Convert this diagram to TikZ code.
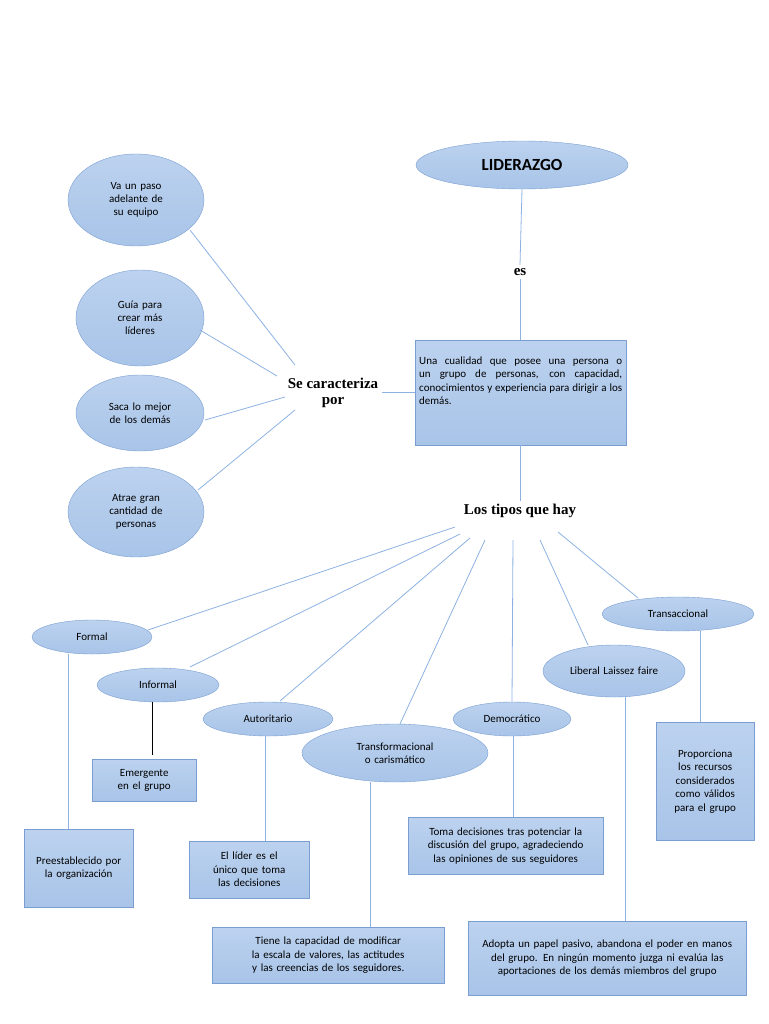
\documentclass[tikz,border=0pt]{standalone}
\usepackage{fontspec}
\setmainfont{Carlito}
\newfontfamily\serifb{Liberation Serif}
\usetikzlibrary{shapes.geometric}
\definecolor{fillb}{HTML}{A8C4E8}
\definecolor{fillt}{HTML}{BCD2EF}
\definecolor{edgeb}{HTML}{7A9ED2}
\definecolor{lineb}{HTML}{8DB2E2}
\tikzset{
 x=1pt,y=-1pt,
 ell/.style={ellipse,draw=edgeb,top color=fillt,bottom color=fillb,inner sep=0pt,align=center,font=\fontsize{11}{13}\selectfont},
 box/.style={rectangle,draw=edgeb,top color=fillt,bottom color=fillb,inner sep=3pt,align=center,font=\fontsize{11}{13.5}\selectfont,anchor=north west},
 lab/.style={font=\serifb\bfseries\fontsize{15}{16}\selectfont,align=center},
 ln/.style={draw=lineb,line width=0.8pt}
}
\begin{document}
\begin{tikzpicture}
\useasboundingbox (0,0) rectangle (768,1024);
% top
\node[ell,minimum width=212,minimum height=48,font=\bfseries\fontsize{17}{18}\selectfont] (lid) at (522,165) {LIDERAZGO};
\node[lab] (es) at (520,272) {es};
\node[box,minimum width=211,minimum height=105,text width=203,align=justify] (def) at (415,340) {Una cualidad que posee una persona o un grupo de personas, con capacidad, conocimientos y experiencia para dirigir a los demás.\\[1em]};
\node[lab] (se) at (333,393) {Se caracteriza\\por};
\node[lab] (tip) at (520,511) {Los tipos que hay};
\draw[ln] (lid.south) -- (es.north);
\draw[ln] (es.south) -- (def.north -| es);
\draw[ln] (def.south -| es) -- (tip.north -| es);
\draw[ln] (def.west) -- (se.east |- def.west);
% left ellipses
\node[ell,minimum width=136,minimum height=92,text width=80] (e1) at (136,200) {Va un paso adelante de su equipo};
\node[ell,minimum width=128,minimum height=96,text width=70] (e2) at (140,318) {Guía para crear más líderes};
\node[ell,minimum width=128,minimum height=76,text width=80] (e3) at (140,413) {Saca lo mejor de los demás};
\node[ell,minimum width=136,minimum height=90,text width=70] (e4) at (136,512) {Atrae gran cantidad de personas};
\coordinate (s1) at (295,365); \coordinate (s2) at (277,376);
\coordinate (s3) at (285,397); \coordinate (s4) at (295,410);
\draw[ln] (190,230) -- (s1);
\draw[ln] (200,330) -- (s2);
\draw[ln] (205,420) -- (s3);
\draw[ln] (198,490) -- (s4);
% type ellipses
\node[ell,minimum width=120,minimum height=34] (f) at (92,637) {Formal};
\node[ell,minimum width=122,minimum height=34] (inf) at (158,685) {Informal};
\node[ell,minimum width=130,minimum height=34] (aut) at (268,719) {Autoritario};
\node[ell,minimum width=186,minimum height=58,text width=120] (tra) at (395,753) {Transformacional o carismático};
\node[ell,minimum width=118,minimum height=34] (dem) at (512,719) {Democrático};
\node[ell,minimum width=142,minimum height=52,text width=90] (lib) at (614,671) {Liberal Laissez faire};
\node[ell,minimum width=152,minimum height=34] (trs) at (678,614) {Transaccional};
\draw[ln] (455,527) -- (148,630);
\draw[ln] (460,534) -- (190,667);
\draw[ln] (470,538) -- (280,701);
\draw[ln] (485,540) -- (400,724);
\draw[ln] (513,540) -- (dem.north);
\draw[ln] (540,540) -- (588,645);
\draw[ln] (558,532) -- (638,598);
% boxes
\node[box,minimum width=104,minimum height=42,text width=96] (b1) at (92,759) {Emergente en el grupo};
\node[box,minimum width=109,minimum height=78,text width=100] (b2) at (24,829) {Preestablecido por la organización};
\node[box,minimum width=120,minimum height=57,text width=96] (b3) at (189,841) {El líder es el único que toma las decisiones};
\node[box,minimum width=232,minimum height=56,text width=224] (b4) at (212,927) {Tiene la capacidad de modificar la escala de valores, las actitudes y las creencias de los seguidores.};
\node[box,minimum width=195,minimum height=57,text width=188] (b5) at (408,817) {Toma decisiones tras potenciar la discusión del grupo, agradeciendo las opiniones de sus seguidores};
\node[box,minimum width=278,minimum height=74,text width=250] (b6) at (468,921) {Adopta un papel pasivo, abandona el poder en manos del grupo. En ningún momento juzga ni evalúa las aportaciones de los demás miembros del grupo};
\node[box,minimum width=98,minimum height=118,text width=86,anchor=north west] (b7) at (656,722) {Proporciona los recursos considerados como válidos para el grupo\\[1.5em]};
\draw[black,line width=1pt] (152,702) -- (152,755);
\draw[ln] (68,654) -- (68,829);
\draw[ln] (265,736) -- (265,841);
\draw[ln] (370,782) -- (370,927);
\draw[ln] (513,736) -- (513,817);
\draw[ln] (625,697) -- (625,921);
\draw[ln] (700,631) -- (700,722);
\end{tikzpicture}
\end{document}
